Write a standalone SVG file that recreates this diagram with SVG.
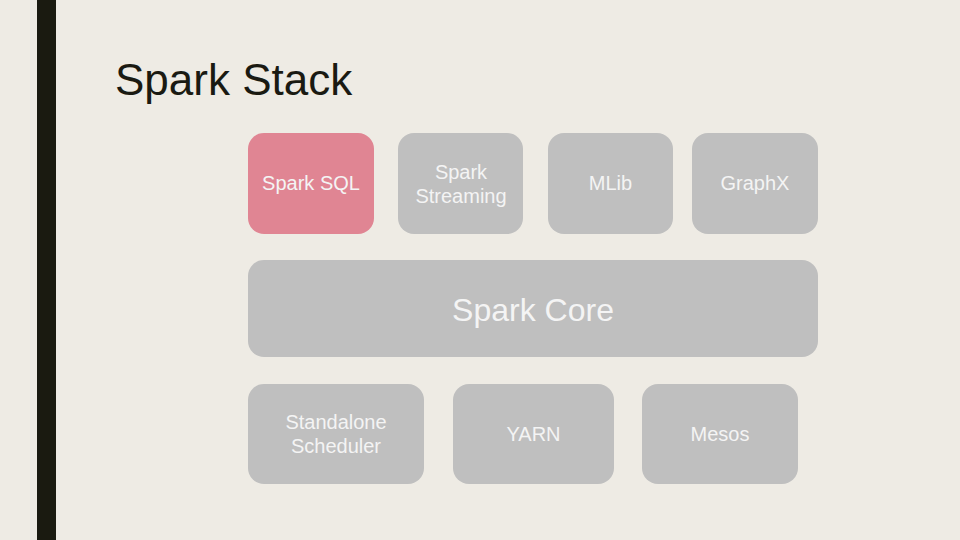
<svg xmlns="http://www.w3.org/2000/svg" width="960" height="540" viewBox="0 0 960 540">
  <style>
    .box { fill: #bfbfbf; }
    .pink { fill: #e08593; }
    .lbl { font-family: "Liberation Sans", Arial, sans-serif; font-size: 20px; fill: #f4f4f4; text-anchor: middle; }
    .core { font-size: 32px; }
    .title { font-family: "Liberation Sans", Arial, sans-serif; font-size: 44px; fill: #1a1a12; }
  </style>
  <rect x="0" y="0" width="960" height="540" fill="#eeebe4"/>
  <rect x="37" y="0" width="19" height="540" fill="#1a1a10"/>
  <text class="title" x="115" y="95">Spark Stack</text>

  <g id="spark-sql">
    <rect class="pink" x="248" y="133" width="126" height="101" rx="16"/>
    <text class="lbl" x="311" y="190">Spark SQL</text>
  </g>
  <g id="spark-streaming">
    <rect class="box" x="398" y="133" width="125" height="101" rx="16"/>
    <text class="lbl" x="461" y="179">Spark</text>
    <text class="lbl" x="461" y="203">Streaming</text>
  </g>
  <g id="mlib">
    <rect class="box" x="548" y="133" width="125" height="101" rx="16"/>
    <text class="lbl" x="610.5" y="190">MLib</text>
  </g>
  <g id="graphx">
    <rect class="box" x="692" y="133" width="126" height="101" rx="16"/>
    <text class="lbl" x="755" y="190">GraphX</text>
  </g>
  <g id="spark-core">
    <rect class="box" x="248" y="260" width="570" height="97" rx="16"/>
    <text class="lbl core" x="533" y="321">Spark Core</text>
  </g>
  <g id="standalone">
    <rect class="box" x="248" y="384" width="176" height="100" rx="16"/>
    <text class="lbl" x="336" y="429">Standalone</text>
    <text class="lbl" x="336" y="453">Scheduler</text>
  </g>
  <g id="yarn">
    <rect class="box" x="453" y="384" width="161" height="100" rx="16"/>
    <text class="lbl" x="533.5" y="441">YARN</text>
  </g>
  <g id="mesos">
    <rect class="box" x="642" y="384" width="156" height="100" rx="16"/>
    <text class="lbl" x="720" y="441">Mesos</text>
  </g>
  <g id="connectors"/>
</svg>
